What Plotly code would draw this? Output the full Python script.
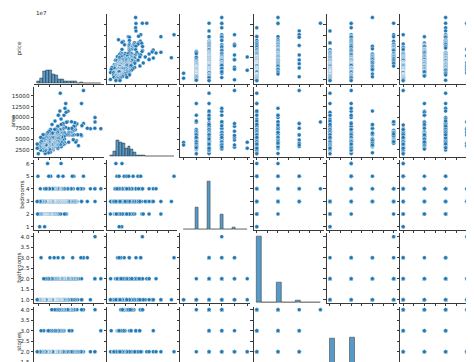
import numpy as np
import plotly.graph_objects as go

# ---------------- data (price in millions) ----------------
price_m = [
    13.3, 12.25, 12.25, 12.215, 11.41, 10.85, 10.15, 10.15, 9.87, 9.8, 9.8, 9.681, 9.24, 9.1, 8.96, 8.89, 8.75, 8.68, 8.645, 8.575,
    8.463, 8.4, 8.4, 8.295, 8.19, 8.12, 8.08, 8.043, 7.98, 7.91, 7.875, 7.7, 7.56, 7.525, 7.49, 7.455, 7.42, 7.42, 7.35, 7.343,
    7.245, 7.14, 7.07, 7.0, 6.93, 6.895, 6.86, 6.79, 6.79, 6.72, 6.685, 6.65, 6.65, 6.65, 6.615, 6.51, 6.51, 6.475, 6.44, 6.405,
    6.3, 6.3, 6.3, 6.265, 6.23, 6.195, 6.16, 6.107, 6.09, 6.083, 6.083, 6.02, 5.95, 5.95, 5.95, 5.943, 5.88, 5.873, 5.81,
    5.74, 5.74, 5.6, 5.6, 5.6, 5.565, 5.53, 5.495, 5.46, 5.46, 5.46, 5.74, 5.74, 5.74, 5.6525, 5.6, 5.6, 5.6, 5.6, 5.565, 5.53, 5.53, 5.523, 5.495, 5.46, 5.46, 5.46, 5.425, 5.39, 5.32, 5.25,
    5.215, 5.2, 5.18, 5.16, 5.15, 5.145, 5.11, 5.075, 5.04, 5.04, 5.0, 4.99, 4.97, 4.96, 4.935, 4.9, 4.9, 4.9, 4.9, 4.893, 4.865, 4.83, 4.795, 4.76, 4.76, 4.76, 4.725, 4.69, 4.69, 4.69, 4.665, 4.655, 4.65, 4.645, 4.64, 4.64,
    4.62, 4.6, 4.585, 4.55, 4.55, 4.55, 4.515, 4.48, 4.48, 4.473, 4.445, 4.41, 4.41, 4.403, 4.403, 4.375, 4.375, 4.34, 4.34, 4.34, 4.319, 4.305, 4.27, 4.27, 4.235, 4.235, 4.2, 4.2, 4.2, 4.2, 4.2, 4.2, 4.193, 4.165, 4.165, 4.165, 4.13, 4.123, 4.098, 4.095, 4.095, 4.07, 4.07, 4.06, 4.06, 4.55, 4.48, 4.34, 4.27, 4.13,
    4.04, 4.025, 4.007, 4.0, 3.99, 3.99, 3.99, 3.955, 3.92, 3.92, 3.92, 3.885, 3.885, 3.85, 3.85, 3.85, 3.836, 3.815, 3.78, 3.78, 3.78, 3.71, 3.71, 3.71, 3.71, 3.64, 3.64, 3.64, 3.64, 3.633, 3.605, 3.57, 3.57, 3.57, 3.535, 3.5, 3.5, 3.5, 3.5, 3.493, 4.0, 3.955, 3.92, 3.885, 3.85, 3.815, 3.78, 3.745, 3.71, 3.675, 3.64, 3.64, 3.605, 3.57, 3.535, 3.5,
    3.465, 3.465, 3.43, 3.43, 3.43, 3.43, 3.395, 3.395, 3.36, 3.36, 3.325, 3.325, 3.29, 3.29, 3.29, 3.255, 3.255, 3.22, 3.22, 3.22, 3.15, 3.15, 3.15, 3.15, 3.15, 3.143, 3.133, 3.115, 3.1, 3.08, 3.08, 3.045, 3.045, 3.01, 3.01, 3.01, 3.003, 2.975, 2.961, 2.94, 2.94, 2.94, 2.94, 2.94, 2.94, 3.36, 3.185,
    2.905, 2.87, 2.87, 2.852, 2.835, 2.8, 2.8, 2.73, 2.73, 2.73, 2.695, 2.66, 2.66, 2.66, 2.62, 2.59, 2.59, 2.52, 2.485, 2.485, 2.45, 2.408, 2.38, 2.38, 2.345,
    2.31, 2.275, 2.2, 2.135, 2.1, 1.96, 1.89, 1.855, 1.82, 1.767, 1.75,
]
area = [
    7420, 8960, 9960, 7500, 7420, 7500, 8580, 16200, 8100, 5750, 13200, 6000, 3500, 6000, 8500, 4600, 4320, 7155, 8050, 8800,
    6000, 7950, 7000, 4880, 5960, 6840, 7000, 7482, 9000, 6000, 6550, 6480, 6000, 6000, 6600, 4300, 7440, 6325, 6000, 11440,
    9000, 6000, 8880, 11175, 13200, 7700, 6000, 12090, 4000, 5020, 6600, 4260, 6420, 5700, 10500, 3760, 8250, 7410, 8580, 4800,
    7200, 6000, 4100, 6400, 6600, 5500, 4500, 3240, 8372, 4300, 9620, 6800, 3700, 7231, 6525, 15600, 7160, 11460, 5828,
    5400, 5800, 10500, 4800, 10500, 5400, 3300, 2817, 3150, 6210, 7800, 4640, 5000, 6360, 6660, 4700, 5500, 6360, 5136, 4400, 3650, 6100, 6900, 7980, 6600, 6825, 4600, 6540, 5300, 6000, 3640,
    3750, 6000, 4800, 4500, 5200, 7260, 4600, 6000, 4000, 6360, 3630, 9166, 4200, 5700, 3450, 4040, 6000, 5400, 7200, 3840, 5000, 4800, 4500, 6420, 3640, 5900, 3120, 6000, 4040, 4560, 5600, 2550, 4775, 3620, 6350, 4260,
    3600, 6420, 4800, 5950, 3850, 2880, 5000, 3450, 4960, 6000, 8400, 4500, 3520, 4400, 3000, 5500, 2700, 3240, 6000, 4600, 5040, 4800, 3850, 6650, 4200, 3680, 5850, 4000, 2610, 3630, 4800, 6720, 3520, 7200, 4520, 3900, 5400, 4000, 3180, 4600, 3600, 4050, 5830, 4400, 3300, 5400, 6360, 3780, 5400, 2000,
    3750, 5000, 3500, 6000, 4400, 3880, 2990, 5400, 4370, 3630, 6800, 4200, 3000, 3150, 4000, 5450, 4320, 3600, 3000, 6000, 4800, 3480, 5020, 4100, 2500, 2910, 4800, 3600, 5960, 3400, 4780, 3800, 6060, 2800, 4500, 3420, 5830, 4000, 3240, 4500, 4360, 2650, 5200, 3520, 4800, 3930, 1836, 4360, 5500, 3700, 6450, 3100, 4000, 5300, 3450, 4840,
    3400, 6000, 4000, 2700, 4500, 5400, 3600, 4200, 3400, 4750, 2800, 3450, 3900, 5680, 2550, 3420, 4800, 3000, 4350, 1700, 3520, 4500, 3000, 6000, 2880, 4260, 3600, 4040, 4250, 3840, 5300, 3185, 2700, 4600, 3660, 2500, 3600, 5000, 3000, 3480, 4000, 2745, 6000, 3500, 4100, 3640, 2360,
    3000, 3850, 4500, 3960, 3040, 6000, 2400, 4350, 3500, 2800, 4000, 3600, 5200, 2910, 3630, 3900, 4350, 3000, 4400, 3350, 3640, 3850, 2475, 5400, 3500,
    3180, 3970, 3650, 3000, 3360, 1650, 3649, 2990, 3000, 2910, 3850,
]
bedrooms = [
    4, 4, 3, 4, 4, 3, 4, 5, 4, 3, 3, 4, 4, 4, 3, 3, 3, 3, 3, 3,
    3, 5, 3, 4, 3, 5, 3, 3, 4, 4, 3, 3, 3, 3, 3, 3, 3, 3, 4, 4,
    4, 3, 2, 3, 2, 3, 3, 4, 3, 3, 2, 4, 3, 3, 3, 3, 3, 3, 5, 3,
    3, 4, 3, 3, 3, 3, 3, 4, 3, 6, 3, 2, 4, 3, 3, 3, 3, 3, 4,
    4, 3, 4, 5, 2, 5, 3, 4, 3, 4, 3, 4, 3, 3, 4, 4, 3, 3, 4, 4, 3, 3, 3, 3, 4, 3, 3, 4, 3, 2, 3,
    3, 2, 3, 4, 3, 3, 3, 4, 3, 2, 4, 2, 4, 2, 3, 3, 3, 2, 3, 3, 4, 3, 3, 3, 2, 4, 3, 2, 3, 3, 3, 3, 4, 2, 3, 4,
    4, 2, 3, 3, 3, 3, 3, 3, 4, 2, 3, 3, 4, 3, 2, 3, 4, 3, 2, 3, 3, 2, 2, 3, 3, 3, 5, 3, 3, 2, 3, 3, 3, 2, 3, 4, 3, 3, 2, 3, 3, 3, 2, 4, 3, 4, 3, 3, 3, 3,
    2, 3, 2, 3, 4, 3, 2, 3, 4, 2, 2, 3, 2, 5, 3, 2, 3, 2, 4, 3, 3, 3, 2, 4, 3, 6, 3, 3, 2, 3, 2, 3, 3, 4, 3, 3, 2, 2, 3, 3, 4, 3, 3, 3, 2, 3, 3, 2, 3, 3, 2, 3, 3, 2, 3, 3,
    3, 2, 3, 2, 3, 2, 4, 2, 2, 3, 3, 2, 3, 3, 2, 4, 2, 3, 2, 3, 3, 3, 2, 3, 3, 2, 2, 2, 1, 4, 3, 2, 3, 2, 2, 3, 2, 3, 3, 2, 3, 3, 2, 3, 3, 4, 3,
    2, 3, 2, 2, 3, 2, 3, 2, 3, 2, 2, 2, 2, 3, 2, 2, 2, 2, 2, 2, 3, 2, 3, 2, 3,
    4, 3, 1, 2, 2, 2, 5, 2, 2, 3, 3,
]
bathrooms = [
    2, 4, 2, 2, 1, 3, 3, 3, 1, 2, 1, 3, 2, 1, 2, 2, 1, 2, 1, 2,
    2, 2, 1, 2, 3, 1, 2, 2, 2, 2, 1, 2, 2, 2, 1, 2, 2, 1, 2, 1,
    2, 2, 1, 1, 1, 2, 1, 2, 2, 1, 2, 2, 2, 1, 2, 1, 2, 1, 3, 2,
    2, 2, 2, 1, 2, 2, 1, 1, 1, 2, 1, 1, 1, 1, 2, 1, 1, 1, 1,
    2, 2, 2, 2, 1, 1, 3, 2, 2, 1, 1, 1, 1, 1, 2, 1, 2, 1, 1, 1, 2, 2, 1, 1, 2, 1, 2, 2, 1, 1, 1,
    2, 1, 1, 2, 2, 1, 2, 1, 1, 1, 1, 1, 1, 1, 1, 2, 1, 1, 1, 2, 1, 3, 1, 1, 1, 1, 1, 1, 1, 2, 1, 1, 1, 1, 1, 2,
    1, 1, 1, 1, 2, 1, 1, 1, 1, 1, 1, 1, 1, 2, 1, 1, 1, 1, 1, 2, 2, 1, 1, 1, 2, 1, 1, 1, 1, 1, 1, 1, 1, 1, 1, 1, 1, 1, 1, 1, 1, 3, 1, 1, 1, 2, 1, 2, 1, 1,
    1, 1, 1, 1, 2, 1, 1, 1, 1, 1, 1, 1, 1, 1, 1, 1, 2, 1, 1, 1, 2, 1, 1, 1, 1, 1, 1, 1, 1, 1, 1, 2, 1, 1, 1, 1, 1, 1, 2, 1, 1, 1, 1, 1, 1, 2, 1, 1, 1, 1, 1, 1, 1, 1, 1, 1,
    1, 1, 1, 1, 2, 1, 1, 1, 1, 1, 1, 1, 1, 1, 1, 1, 1, 1, 1, 2, 1, 1, 1, 1, 1, 1, 1, 1, 1, 1, 1, 1, 1, 1, 1, 1, 1, 1, 1, 1, 1, 1, 1, 1, 2, 1, 1,
    1, 1, 1, 1, 1, 1, 1, 1, 1, 1, 1, 1, 1, 1, 1, 1, 1, 1, 1, 1, 3, 1, 1, 1, 1,
    1, 1, 1, 1, 1, 1, 1, 1, 1, 1, 1,
]
stories = [
    3, 4, 2, 2, 2, 1, 4, 2, 2, 4, 2, 2, 2, 2, 4, 2, 2, 1, 1, 2,
    4, 2, 4, 2, 2, 2, 4, 3, 4, 4, 2, 4, 3, 4, 4, 2, 1, 4, 4, 2,
    4, 2, 1, 1, 1, 1, 1, 2, 2, 4, 4, 2, 3, 1, 1, 2, 3, 1, 2, 4,
    1, 4, 3, 1, 1, 4, 4, 3, 3, 2, 1, 1, 2, 2, 4, 1, 1, 3, 4,
    2, 4, 2, 3, 1, 2, 2, 2, 1, 4, 1, 2, 3, 1, 2, 2, 2, 3, 2, 2, 2, 1, 1, 1, 2, 1, 1, 2, 1, 1, 3,
    2, 1, 3, 4, 2, 1, 3, 2, 2, 1, 2, 1, 2, 1, 2, 4, 1, 1, 2, 2, 2, 3, 1, 1, 1, 2, 2, 1, 1, 2, 1, 2, 2, 1, 2, 2,
    2, 1, 2, 2, 2, 2, 1, 2, 3, 1, 1, 2, 2, 4, 1, 1, 2, 2, 1, 3, 2, 1, 1, 1, 2, 2, 2, 2, 2, 1, 1, 1, 2, 1, 2, 2, 1, 1, 1, 2, 2, 3, 1, 2, 2, 2, 1, 1, 1, 2,
    1, 2, 1, 2, 2, 2, 1, 2, 2, 1, 1, 2, 1, 2, 2, 1, 2, 1, 2, 1, 2, 3, 1, 2, 1, 2, 1, 2, 1, 2, 1, 2, 1, 2, 2, 2, 1, 1, 2, 2, 2, 2, 1, 2, 1, 2, 3, 1, 1, 2, 1, 2, 1, 1, 2, 1,
    2, 1, 2, 1, 2, 1, 2, 1, 1, 2, 2, 1, 2, 1, 1, 2, 1, 2, 1, 2, 2, 2, 1, 1, 2, 1, 1, 1, 1, 2, 1, 1, 2, 1, 1, 2, 1, 1, 2, 1, 1, 2, 1, 3, 2, 2, 2,
    1, 2, 1, 1, 2, 1, 2, 1, 2, 1, 1, 1, 1, 2, 1, 1, 1, 1, 2, 1, 3, 1, 2, 1, 1,
    2, 2, 1, 1, 1, 1, 2, 1, 1, 1, 2,
]
parking = [
    2, 3, 2, 3, 2, 2, 2, 0, 2, 1, 2, 2, 2, 2, 2, 2, 2, 2, 1, 2,
    0, 2, 2, 1, 1, 1, 2, 1, 2, 1, 0, 2, 0, 1, 3, 1, 0, 1, 1, 1,
    1, 1, 1, 1, 1, 2, 1, 2, 0, 0, 0, 0, 0, 2, 1, 2, 0, 2, 2, 0,
    3, 1, 2, 1, 0, 1, 0, 1, 2, 0, 2, 2, 0, 0, 1, 2, 2, 2, 0,
    2, 0, 1, 0, 1, 0, 0, 1, 2, 0, 2, 1, 0, 1, 1, 1, 1, 0, 0, 2, 2, 2, 0, 2, 0, 0, 0, 2, 2, 1, 1,
    1, 1, 1, 1, 0, 2, 0, 0, 1, 2, 3, 2, 0, 0, 0, 1, 2, 1, 0, 1, 0, 0, 2, 2, 0, 0, 0, 0, 1, 0, 0, 0, 0, 0, 2, 0,
    0, 1, 2, 3, 0, 0, 1, 0, 0, 2, 1, 1, 0, 1, 0, 2, 0, 1, 1, 0, 1, 0, 0, 2, 0, 2, 0, 3, 0, 1, 2, 0, 0, 0, 0, 0, 1, 0, 0, 0, 0, 0, 0, 1, 0, 0, 0, 0, 1, 0,
    1, 0, 0, 2, 0, 0, 1, 1, 0, 0, 2, 2, 0, 0, 3, 0, 0, 1, 0, 2, 0, 0, 0, 0, 2, 0, 1, 0, 2, 0, 0, 0, 1, 0, 0, 3, 0, 0, 0, 1, 0, 0, 0, 1, 0, 0, 0, 0, 1, 0, 2, 0, 0, 1, 0, 0,
    0, 1, 1, 0, 0, 0, 0, 1, 0, 0, 0, 0, 2, 1, 0, 0, 0, 0, 1, 0, 3, 0, 0, 1, 0, 0, 0, 0, 0, 0, 2, 0, 1, 0, 0, 0, 0, 1, 0, 0, 1, 0, 0, 0, 0, 1, 0,
    0, 0, 0, 0, 0, 2, 0, 1, 0, 0, 1, 0, 0, 0, 0, 0, 1, 0, 0, 0, 0, 0, 0, 0, 0,
    0, 0, 0, 0, 0, 0, 0, 0, 2, 0, 0,
]

var_names = ["price", "area", "bedrooms", "bathrooms", "stories", "parking"]
hist_bins = {"price": 21, "area": 22, "bedrooms": 21, "bathrooms": 13, "stories": 13, "parking": 13}
tick_vals = {
    "price": [0.2, 0.4, 0.6, 0.8, 1.0, 1.2],
    "area": [2500, 5000, 7500, 10000, 12500, 15000],
    "bedrooms": [1, 2, 3, 4, 5, 6],
    "bathrooms": [1.0, 1.5, 2.0, 2.5, 3.0, 3.5, 4.0],
    "stories": [1.0, 1.5, 2.0, 2.5, 3.0, 3.5, 4.0],
    "parking": [0.0, 0.5, 1.0, 1.5, 2.0, 2.5, 3.0],
}
tick_text = {
    "price": ["0.2", "0.4", "0.6", "0.8", "1.0", "1.2"],
    "area": ["2500", "5000", "7500", "10000", "12500", "15000"],
    "bedrooms": ["1", "2", "3", "4", "5", "6"],
    "bathrooms": ["1.0", "1.5", "2.0", "2.5", "3.0", "3.5", "4.0"],
    "stories": ["1.0", "1.5", "2.0", "2.5", "3.0", "3.5", "4.0"],
    "parking": ["0.0", "0.5", "1.0", "1.5", "2.0", "2.5", "3.0"],
}

n = len(price_m)
assert all(len(a) == n for a in [area, bedrooms, bathrooms, stories, parking])

values = {
    "price": np.array(price_m) / 10.0,   # axis shown in units of 1e7
    "area": np.array(area, dtype=float),
    "bedrooms": np.array(bedrooms, dtype=float),
    "bathrooms": np.array(bathrooms, dtype=float),
    "stories": np.array(stories, dtype=float),
    "parking": np.array(parking, dtype=float),
}

# ---------------- layout geometry (pixels) ----------------
W, H = 474, 362
X0, PX, CW = 26.0, 73.2, 70.0
Y0, PY, CH = 6.4, 73.65, 70.0
NROWS, NCOLS = 5, 6
BLUE = "#1f77b4"
LINE = "#3a3a3a"
TXT = "#262626"
FS = 5.6


def full_range(v):
    lo, hi = float(v.min()), float(v.max())
    pad = 0.05 * (hi - lo)
    return [lo - pad, hi + pad]


# histograms of every variable; the diagonal count axis is shared (seaborn diag_sharey)
hists = {}
for name in var_names:
    v = values[name]
    edges = np.linspace(v.min(), v.max(), hist_bins[name] + 1)
    counts, _ = np.histogram(v, bins=edges)
    hists[name] = (edges, counts)
shared_cmax = max(h[1].max() for h in hists.values()) * 1.05

fig = go.Figure()
layout = dict(
    width=W, height=H, margin=dict(l=0, r=0, t=0, b=0),
    paper_bgcolor="white", plot_bgcolor="white", showlegend=False,
    font=dict(family="DejaVu Sans", size=FS, color=TXT),
    bargap=0, barmode="overlay",
)

axis_style = dict(showline=True, linecolor=LINE, linewidth=0.8, ticks="outside",
                  ticklen=2.5, tickwidth=0.8, tickcolor=LINE, showgrid=False,
                  zeroline=False, fixedrange=True)

annotations = []
label_x = {"price": 11.5, "area": 5.5, "bedrooms": 14.5, "bathrooms": 11.5, "stories": 11.5}
for r in range(NROWS):
    rv = var_names[r]
    top = Y0 + r * PY
    bot = top + CH
    vis_bot = min(bot, H)
    frac = (vis_bot - top) / CH
    yr_full = full_range(values[rv])
    yr = [yr_full[1] - (yr_full[1] - yr_full[0]) * frac, yr_full[1]]
    ydom = [max(0.0, (H - vis_bot) / H), (H - top) / H]
    for c in range(NCOLS):
        cv = var_names[c]
        k = r * NCOLS + c + 1
        sfx = "" if k == 1 else str(k)
        left = X0 + c * PX
        xdom = [left / W, (left + CW) / W]
        xr = full_range(values[cv])
        layout["xaxis" + sfx] = dict(domain=xdom, anchor="y" + sfx, range=xr,
                                     tickvals=tick_vals[cv], showticklabels=False,
                                     **axis_style)
        layout["yaxis" + sfx] = dict(domain=ydom, anchor="x" + sfx, range=yr,
                                     tickvals=tick_vals[rv], ticktext=tick_text[rv],
                                     showticklabels=(c == 0), tickfont=dict(size=FS, color=TXT),
                                     **axis_style)
        if r == c:
            edges, counts = hists[cv]
            centers = 0.5 * (edges[:-1] + edges[1:])
            width = edges[1] - edges[0]
            oid = 30 + r + 1
            crange = [shared_cmax - shared_cmax * frac, shared_cmax]
            layout["yaxis" + str(oid)] = dict(domain=ydom, anchor="x" + sfx, range=crange,
                                              visible=False, fixedrange=True,
                                              showgrid=False, zeroline=False)
            fig.add_trace(go.Bar(x=centers, y=counts, width=width,
                                 marker=dict(color="rgba(31,119,180,0.75)",
                                             line=dict(color="rgba(40,40,40,0.8)", width=0.6)),
                                 xaxis="x" + sfx, yaxis="y" + str(oid), hoverinfo="skip"))
        else:
            fig.add_trace(go.Scatter(x=values[cv], y=values[rv], mode="markers",
                                     marker=dict(size=4.0, color=BLUE,
                                                 line=dict(color="white", width=0.45)),
                                     xaxis="x" + sfx, yaxis="y" + sfx, hoverinfo="skip"))
    yc_px = (top + min(bot, H)) / 2 if r < NROWS - 1 else (top + bot) / 2
    annotations.append(dict(text=rv, x=label_x[rv] / W, y=(H - yc_px) / H, xref="paper", yref="paper",
                            textangle=-90, showarrow=False, font=dict(size=FS, color=TXT),
                            xanchor="center", yanchor="middle"))

annotations.append(dict(text="1e7", x=26 / W, y=1.0, xref="paper", yref="paper",
                        showarrow=False, xanchor="left", yanchor="top",
                        font=dict(size=FS, color=TXT)))
layout["annotations"] = annotations
layout["shapes"] = [
    dict(type="rect", xref="paper", yref="paper", x0=466.5 / W, x1=1, y0=0, y1=1,
         fillcolor="#efefef", line=dict(width=0), layer="above"),
    dict(type="line", xref="paper", yref="paper", x0=466.5 / W, x1=466.5 / W, y0=0, y1=1,
         line=dict(color="#d2d2d2", width=1.2), layer="above"),
]
fig.update_layout(**layout)
fig.write_html("out.html")
